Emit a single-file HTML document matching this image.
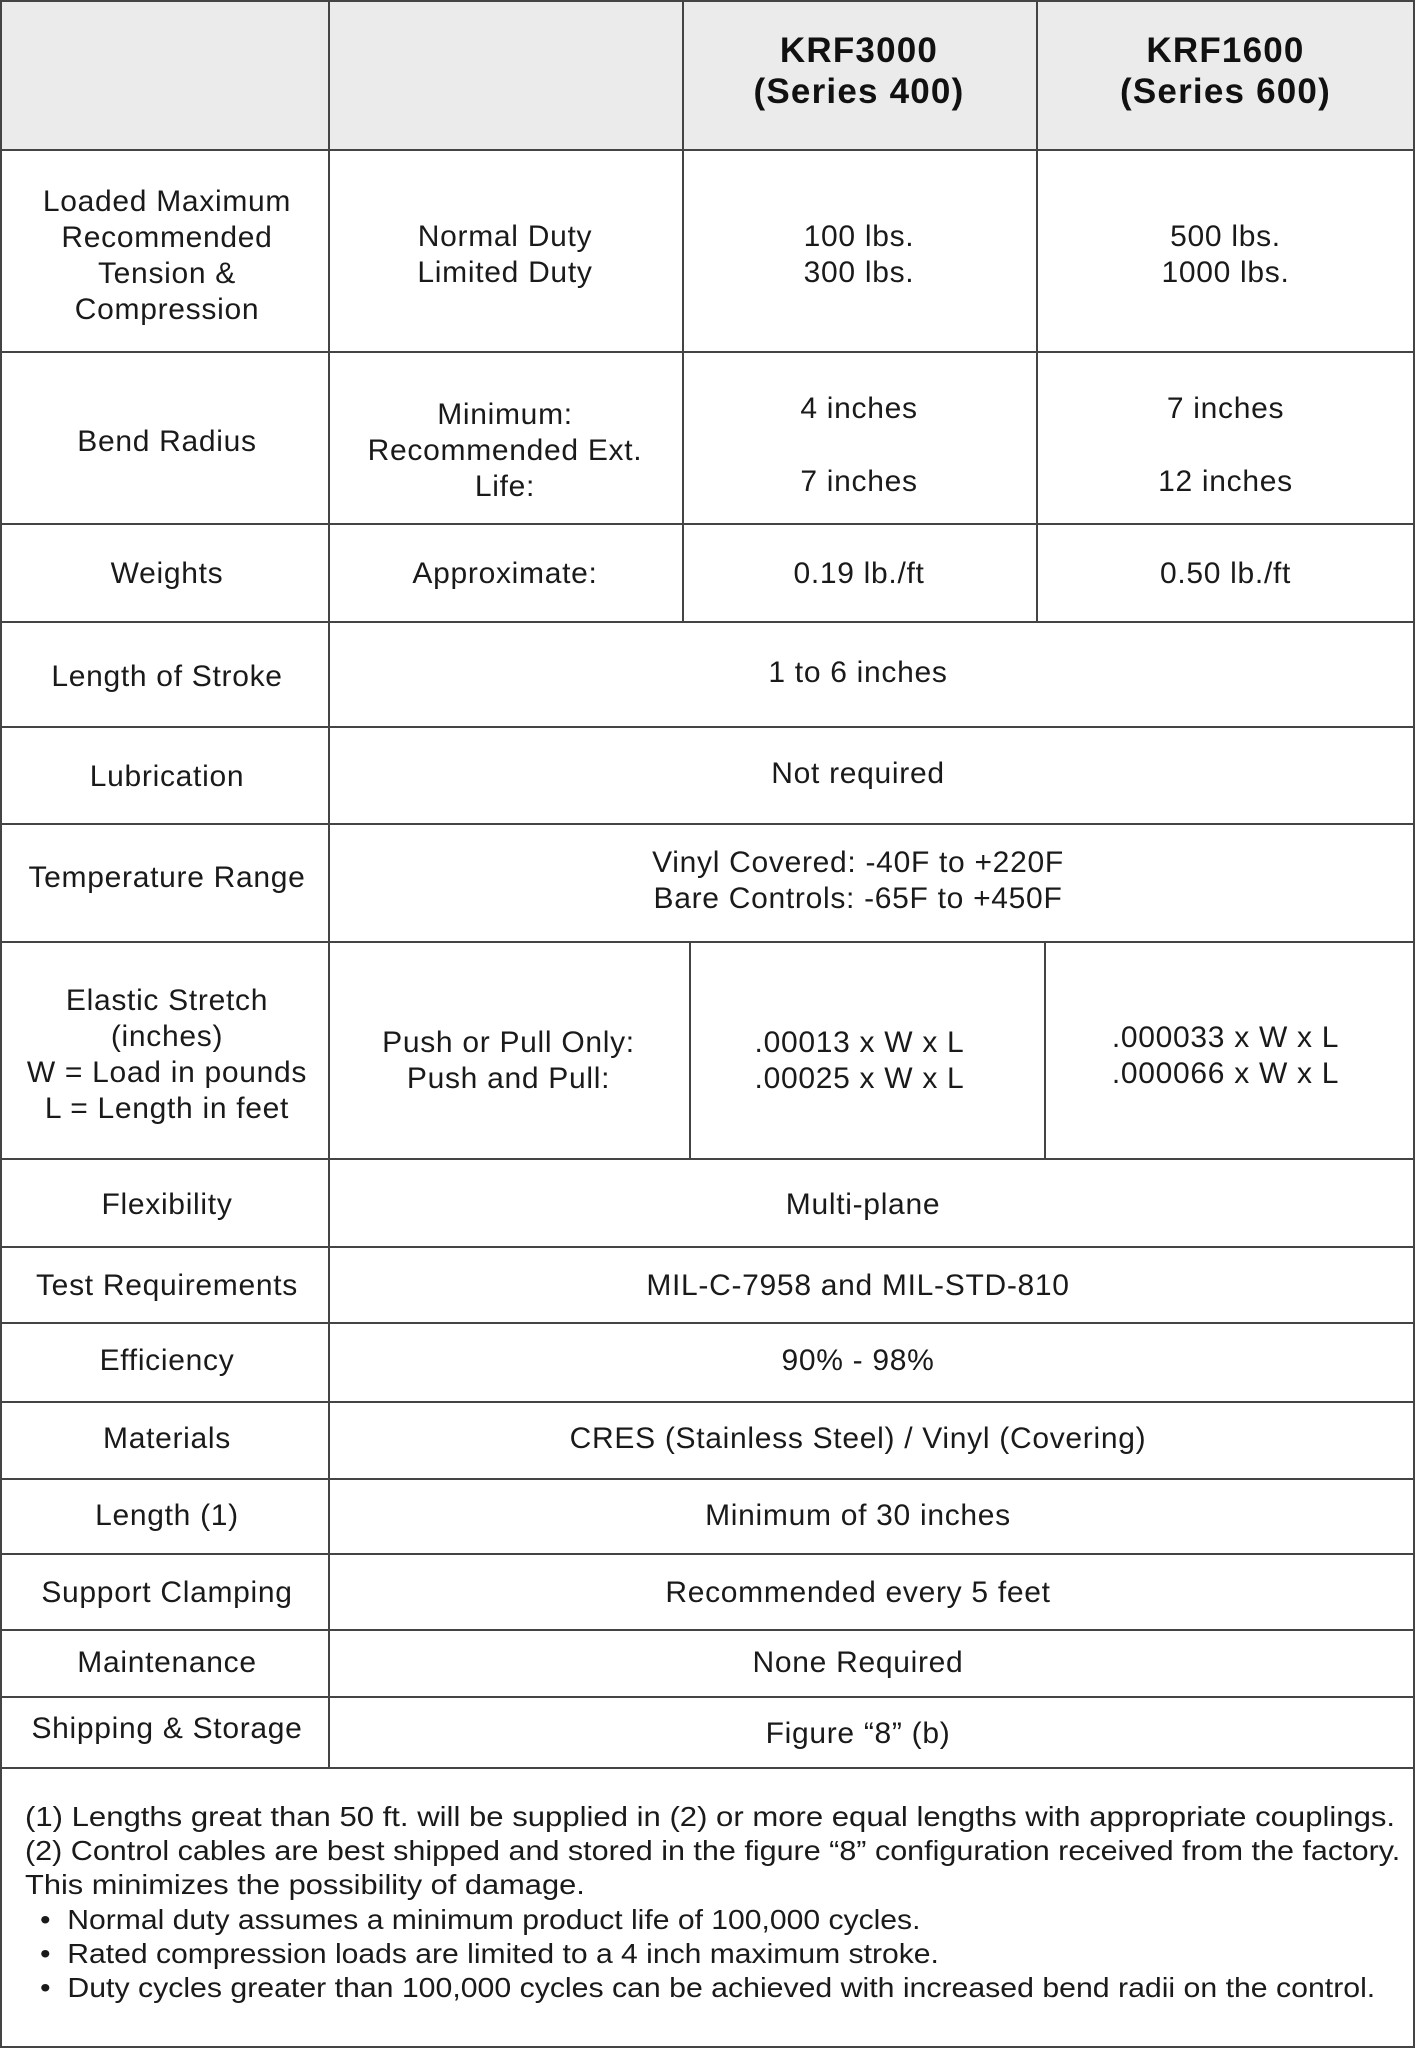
<!DOCTYPE html>
<html><head><meta charset="utf-8"><style>
body{margin:0;width:1415px;height:2048px;background:#fff;position:relative;overflow:hidden;font-family:"Liberation Sans",sans-serif;color:#1a1a1a}
.h{position:absolute;background:#444;height:1.5px}
.v{position:absolute;background:#444;width:1.5px}
.t{position:absolute;text-align:center;font-size:30px;letter-spacing:0.7px;line-height:36px;transform:translateY(-50%);white-space:nowrap}
.b{font-weight:bold;font-size:35px;letter-spacing:1.2px;line-height:41px;color:#111}
.f{position:absolute;left:25px;font-size:28px;line-height:34px;white-space:nowrap;transform:scaleX(1.11);transform-origin:left center}
</style></head><body>
<div style="position:absolute;left:0;top:0;width:1415px;height:149px;background:#ebebeb"></div>
<div class="h" style="left:0;top:0;width:1415px"></div>
<div class="h" style="left:0;top:149px;width:1415px"></div>
<div class="h" style="left:0;top:351px;width:1415px"></div>
<div class="h" style="left:0;top:523px;width:1415px"></div>
<div class="h" style="left:0;top:621px;width:1415px"></div>
<div class="h" style="left:0;top:726px;width:1415px"></div>
<div class="h" style="left:0;top:823px;width:1415px"></div>
<div class="h" style="left:0;top:941px;width:1415px"></div>
<div class="h" style="left:0;top:1158px;width:1415px"></div>
<div class="h" style="left:0;top:1246px;width:1415px"></div>
<div class="h" style="left:0;top:1322px;width:1415px"></div>
<div class="h" style="left:0;top:1401px;width:1415px"></div>
<div class="h" style="left:0;top:1478px;width:1415px"></div>
<div class="h" style="left:0;top:1553px;width:1415px"></div>
<div class="h" style="left:0;top:1629px;width:1415px"></div>
<div class="h" style="left:0;top:1696px;width:1415px"></div>
<div class="h" style="left:0;top:1767px;width:1415px"></div>
<div class="h" style="left:0;top:2046px;width:1415px"></div>
<div class="v" style="left:0;top:0;height:2048px"></div>
<div class="v" style="left:1413px;top:0;height:2048px"></div>
<div class="v" style="left:328px;top:0;height:1767px"></div>
<div class="v" style="left:682px;top:0;height:621px"></div>
<div class="v" style="left:1036px;top:0;height:621px"></div>
<div class="v" style="left:689px;top:941px;height:217px"></div>
<div class="v" style="left:1044px;top:941px;height:217px"></div>
<div class="t b" style="left:682px;width:354px;top:71px">KRF3000<br>(Series 400)</div>
<div class="t b" style="left:1036px;width:379px;top:71px">KRF1600<br>(Series 600)</div>
<div class="t" style="left:0;width:334px;top:256px">Loaded Maximum<br>Recommended<br>Tension &amp;<br>Compression</div>
<div class="t" style="left:328px;width:354px;top:255px">Normal Duty<br>Limited Duty</div>
<div class="t" style="left:682px;width:354px;top:255px">100 lbs.<br>300 lbs.</div>
<div class="t" style="left:1036px;width:379px;top:255px">500 lbs.<br>1000 lbs.</div>
<div class="t" style="left:0;width:334px;top:442px">Bend Radius</div>
<div class="t" style="left:328px;width:354px;top:451px">Minimum:<br>Recommended Ext.<br>Life:</div>
<div class="t" style="left:682px;width:354px;top:409px">4 inches</div>
<div class="t" style="left:682px;width:354px;top:482px">7 inches</div>
<div class="t" style="left:1036px;width:379px;top:409px">7 inches</div>
<div class="t" style="left:1036px;width:379px;top:482px">12 inches</div>
<div class="t" style="left:0;width:334px;top:574px">Weights</div>
<div class="t" style="left:328px;width:354px;top:574px">Approximate:</div>
<div class="t" style="left:682px;width:354px;top:574px">0.19 lb./ft</div>
<div class="t" style="left:1036px;width:379px;top:574px">0.50 lb./ft</div>
<div class="t" style="left:0;width:334px;top:677px">Length of Stroke</div>
<div class="t" style="left:328px;width:1060px;top:673px">1 to 6 inches</div>
<div class="t" style="left:0;width:334px;top:777px">Lubrication</div>
<div class="t" style="left:328px;width:1060px;top:774px">Not required</div>
<div class="t" style="left:0;width:334px;top:878px">Temperature Range</div>
<div class="t" style="left:328px;width:1060px;top:881px">Vinyl Covered: -40F to +220F<br>Bare Controls: -65F to +450F</div>
<div class="t" style="left:0;width:334px;top:1055px">Elastic Stretch<br>(inches)<br>W = Load in pounds<br>L = Length in feet</div>
<div class="t" style="left:328px;width:361px;top:1061px">Push or Pull Only:<br>Push and Pull:</div>
<div class="t" style="left:682px;width:355px;top:1061px">.00013 x W x L<br>.00025 x W x L</div>
<div class="t" style="left:1036px;width:379px;top:1056px">.000033 x W x L<br>.000066 x W x L</div>
<div class="t" style="left:0;width:334px;top:1205px">Flexibility</div>
<div class="t" style="left:328px;width:1070px;top:1205px">Multi-plane</div>
<div class="t" style="left:0;width:334px;top:1286px">Test Requirements</div>
<div class="t" style="left:328px;width:1060px;top:1286px">MIL-C-7958 and MIL-STD-810</div>
<div class="t" style="left:0;width:334px;top:1361px">Efficiency</div>
<div class="t" style="left:328px;width:1060px;top:1361px">90% - 98%</div>
<div class="t" style="left:0;width:334px;top:1439px">Materials</div>
<div class="t" style="left:328px;width:1060px;top:1439px">CRES (Stainless Steel) / Vinyl (Covering)</div>
<div class="t" style="left:0;width:334px;top:1516px">Length (1)</div>
<div class="t" style="left:328px;width:1060px;top:1516px">Minimum of 30 inches</div>
<div class="t" style="left:0;width:334px;top:1593px">Support Clamping</div>
<div class="t" style="left:328px;width:1060px;top:1593px">Recommended every 5 feet</div>
<div class="t" style="left:0;width:334px;top:1663px">Maintenance</div>
<div class="t" style="left:328px;width:1060px;top:1663px">None Required</div>
<div class="t" style="left:0;width:334px;top:1729px">Shipping &amp; Storage</div>
<div class="t" style="left:328px;width:1060px;top:1734px">Figure “8” (b)</div>
<div class="f" style="top:1800px">(1) Lengths great than 50 ft. will be supplied in (2) or more equal lengths with appropriate couplings.</div>
<div class="f" style="top:1834px;transform:scaleX(1.09)">(2) Control cables are best shipped and stored in the figure “8” configuration received from the factory.</div>
<div class="f" style="top:1868px;transform:scaleX(1.1)">This minimizes the possibility of damage.</div>
<div class="f" style="top:1903px;left:40px;transform:scaleX(1.075)">•&nbsp; Normal duty assumes a minimum product life of 100,000 cycles.</div>
<div class="f" style="top:1937px;left:40px;transform:scaleX(1.075)">•&nbsp; Rated compression loads are limited to a 4 inch maximum stroke.</div>
<div class="f" style="top:1971px;left:40px;transform:scaleX(1.08)">•&nbsp; Duty cycles greater than 100,000 cycles can be achieved with increased bend radii on the control.</div>
</body></html>
